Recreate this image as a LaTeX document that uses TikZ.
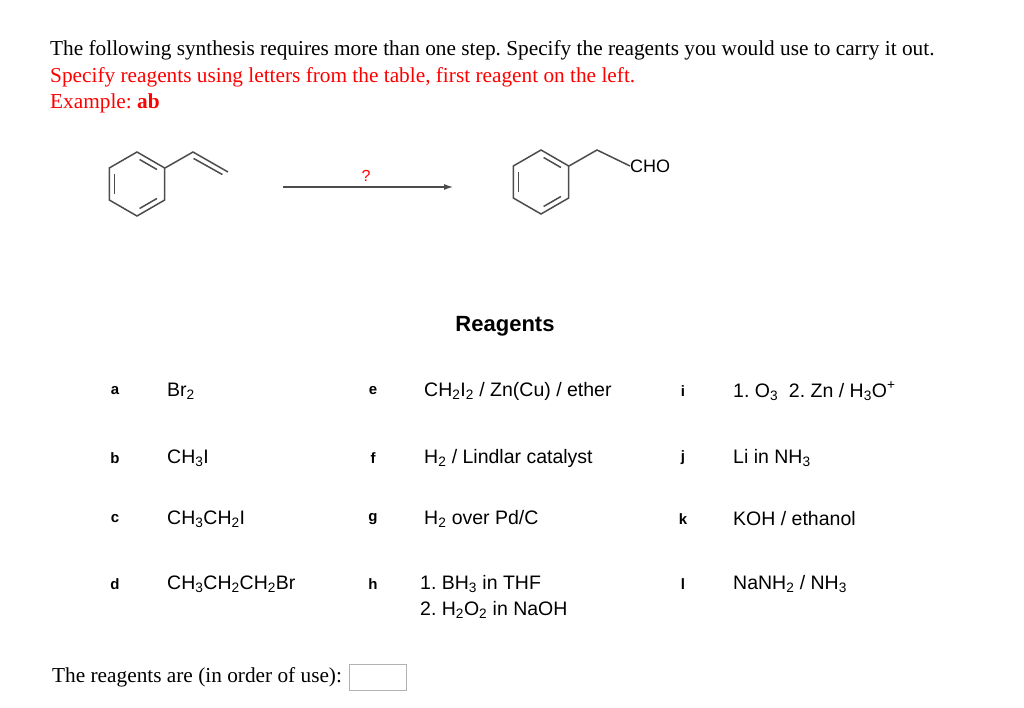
\documentclass[tikz,border=0pt]{standalone}
\usepackage{fontspec}
\setmainfont{Liberation Serif}
\newfontfamily\arial{Liberation Sans}
\usetikzlibrary{arrows.meta}
\newcommand{\sbs}[1]{\textsubscript{#1}}
\newcommand{\sps}[1]{\textsuperscript{#1}}
\frenchspacing
\begin{document}
\begin{tikzpicture}[x=1pt,y=-1pt,
  bond/.style={line width=1.5pt,draw=black!70},
  ib/.style={line width=1.5pt,draw=black!70,shorten <=3pt,shorten >=3pt},
  hd/.style={anchor=west,inner sep=0pt,font=\frenchspacing\fontsize{21.3}{24}\selectfont},
  lt/.style={anchor=center,inner sep=0pt,font=\arial\bfseries\fontsize{15}{18}\selectfont},
  rg/.style={anchor=west,inner sep=0pt,font=\frenchspacing\arial\fontsize{19.5}{22}\selectfont}]
\useasboundingbox (0,0) rectangle (1024,708);
\node[hd] (t1) at (50,50) {The following synthesis requires more than one step. Specify the reagents you would use to carry it out.};
\node[hd,text=red] (t2) at (50,77) {Specify reagents using letters from the table, first reagent on the left.};
\node[hd,text=red] (t3) at (50,103) {Example: \textbf{ab}};
% left ring
\begin{scope}[shift={(137,184)}]
\draw[bond] (-90:32) -- (-30:32) -- (30:32) -- (90:32) -- (150:32) -- (-150:32) -- cycle;
\draw[ib] (150:26) -- (-150:26);
\draw[ib] (90:26) -- (30:26);
\draw[ib] (-30:26) -- (-90:26);
\end{scope}
\draw[bond] (165,168) -- (193,152) -- (228,172);
\draw[ib] (191,157) -- (225,176);
% arrow
\coordinate (a1) at (283,187);
\coordinate (a2) at (453,187);
\draw[line width=1.2pt,black!70,-{Latex[length=9pt,width=6pt]}] (a1) -- (a2);
\node[text=red,inner sep=0pt,font=\arial\fontsize{16}{18}\selectfont] (q) at (366,176) {?};
% right ring
\begin{scope}[shift={(541,182)}]
\draw[bond] (-90:32) -- (-30:32) -- (30:32) -- (90:32) -- (150:32) -- (-150:32) -- cycle;
\draw[ib] (150:26) -- (-150:26);
\draw[ib] (90:26) -- (30:26);
\draw[ib] (-30:26) -- (-90:26);
\end{scope}
\node[rg,font=\arial\fontsize{18}{20}\selectfont] (cho) at (630,166) {CHO};
\draw[bond] (569,166) -- (597,150) -- (cho.west);
% table
\node[inner sep=0pt,font=\arial\bfseries\fontsize{22}{26}\selectfont] (hdr) at (505,326) {Reagents};
\node[lt] (la) at (115,391) {a};
\node[rg] (ra) at (167,391) {Br\sbs{2}};
\node[lt] (lb) at (115,458) {b};
\node[rg] (rb) at (167,458) {CH\sbs{3}I};
\node[lt] (lc) at (115,519) {c};
\node[rg] (rc) at (167,519) {CH\sbs{3}CH\sbs{2}I};
\node[lt] (ld) at (115,584) {d};
\node[rg] (rd) at (167,584) {CH\sbs{3}CH\sbs{2}CH\sbs{2}Br};
\node[lt] (le) at (373,391) {e};
\node[rg] (re) at (424,391) {CH\sbs{2}I\sbs{2} / Zn(Cu) / ether};
\node[lt] (lf) at (373,458) {f};
\node[rg] (rf) at (424,458) {H\sbs{2} / Lindlar catalyst};
\node[lt] (lg) at (373,519) {g};
\node[rg] (rgg) at (424,519) {H\sbs{2} over Pd/C};
\node[lt] (lh) at (373,584) {h};
\node[rg] (rh) at (420,584) {1. BH\sbs{3} in THF};
\node[rg] (rh2) at (420,610) {2. H\sbs{2}O\sbs{2} in NaOH};
\node[lt] (li) at (683,391) {i};
\node[rg] (ri) at (733,391) {1. O\sbs{3}\ \ 2. Zn / H\sbs{3}O\sps{+}};
\node[lt] (lj) at (683,458) {j};
\node[rg] (rj) at (733,458) {Li in NH\sbs{3}};
\node[lt] (lk) at (683,519) {k};
\node[rg] (rk) at (733,519) {KOH / ethanol};
\node[lt] (ll) at (683,584) {l};
\node[rg] (rl) at (733,584) {NaNH\sbs{2} / NH\sbs{3}};
\node[hd] (ans) at (52,677) {The reagents are (in order of use):};
\draw[black!30,line width=0.8pt] (349,664) rectangle (406,690);
\end{tikzpicture}
\end{document}
